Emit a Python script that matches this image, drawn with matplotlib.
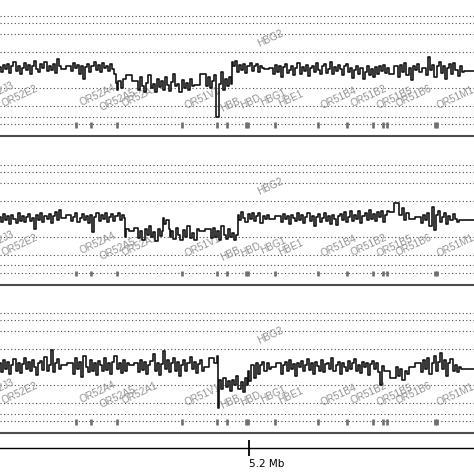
import numpy as np
import matplotlib
matplotlib.use("Agg")
import matplotlib.pyplot as plt

# genomic window (Mb) and log2 ratio guide lines
x_min, x_max = 5.0207, 5.3620
guide_levels = [1.5, 1.3, 1.0, 0.5, -0.5, -1.0, -1.3, -1.5]

# gene positions (Mb) drawn as small ticks
gene_ticks = [5.0754, 5.0862, 5.1050, 5.1518, 5.1770, 5.1842, 5.1975, 5.1996,
              5.2187, 5.2497, 5.2706, 5.2893, 5.2968, 5.2990, 5.3336, 5.3357]

# gene labels
gene_names = ["OR52J3", "OR52E2", "OR52A4", "OR52A5", "OR52A1", "OR51V1", "HBB", "HBD",
              "HBG1", "HBE1", "HBG2", "OR51B4", "OR51B2", "OR51B5", "OR51B6", "OR51M1"]
label_x = [5.0075, 5.0232, 5.0795, 5.0940, 5.1095, 5.1550, 5.1806, 5.1950,
           5.2094, 5.2223, 5.2072, 5.2530, 5.2745, 5.2933, 5.3070, 5.3365]
label_y = [-0.92, -1.03, -1.00, -1.14, -1.03, -1.08, -1.17, -1.08,
           -1.00, -1.03, 0.64, -1.08, -1.03, -1.08, -1.03, -1.08]

# probe blocks (start Mb, end Mb) and log2 ratios, sample 1
p1_edges = [(5.0207, 5.0654), (5.0711, 5.1050), (5.1050, 5.1122), (5.1194, 5.1611),
            (5.1683, 5.1878), (5.1878, 5.2115), (5.2166, 5.3015), (5.3066, 5.3231),
            (5.3267, 5.3555)]
p1_vals = [
    [0.08, -0.05, 0.15, 0.02, 0.18, -0.08, 0.1, 0.22, -0.02, 0.12, -0.1, 0.05, 0.2, 0.0, 0.14, -0.12,
     0.1, 0.25, 0.03, -0.06, 0.16, 0.06, 0.22, -0.04, 0.12, 0.0, 0.18, -0.08, 0.3, 0.1, 0.04],
    [0.1, -0.02, 0.2, 0.05, 0.15, -0.1, 0.12, -0.25, 0.08, 0.18, -0.05, 0.1, 0.22, 0.0, 0.14, -0.06,
     0.2, 0.06, 0.12, -0.02, 0.16, 0.04, -0.1, -0.35],
    [-0.55, -0.3, -0.5, -0.25, -0.15],
    [-0.3, -0.55, -0.2, -0.45, -0.62, -0.35, -0.15, -0.5, -0.4, -0.6, -0.25, -0.48, -0.3, -0.55, -0.2,
     -0.42, -0.58, -0.32, -0.12, -0.45, -0.38, -0.6, -0.28, -0.5, -0.35, -0.55, -0.25, -0.45, -0.42],
    [-0.1, -0.45, -0.2, -0.5, -0.3, -0.15, -1.3, -0.4, -0.05, -0.55, -0.25, -0.45, -0.2, -0.4],
    [0.22, 0.1, 0.25, -0.05, 0.15, 0.0, 0.18, -0.08, 0.12, 0.2, -0.02, 0.1, 0.16, -0.06, 0.12, 0.05, 0.04],
    [0.05, -0.1, 0.15, -0.05, 0.1, -0.2, 0.08, 0.18, -0.08, 0.0, 0.12, -0.15, 0.05, 0.2, -0.1, 0.08,
     -0.02, 0.15, -0.18, 0.06, 0.12, -0.05, 0.2, 0.0, -0.12, 0.1, 0.16, -0.08, 0.04, 0.22, -0.1, 0.08,
     -0.04, 0.14, 0.02, -0.15, 0.1, 0.18, -0.06, 0.05, -0.22, 0.0, 0.12, -0.1, 0.06, -0.25, -0.05, 0.1,
     -0.15, 0.04, -0.2, 0.08, -0.1, 0.12, -0.02, 0.15, -0.08, 0.05, -0.12],
    [0.1, -0.2, 0.15, -0.05, 0.2, -0.15, 0.05, -0.28, 0.1, 0.0, 0.18, -0.05],
    [0.05, -0.15, 0.35, 0.0, 0.15, -0.2, 0.1, 0.22, -0.08, 0.12, -0.25, 0.05, 0.18, -0.1, 0.2, 0.0,
     -0.18, 0.1, -0.05, -0.02],
]

# sample 2
p2_edges = [(5.0207, 5.0654), (5.0711, 5.1107), (5.1107, 5.1143), (5.1194, 5.1380),
            (5.1380, 5.1431), (5.1431, 5.1647), (5.1719, 5.1914), (5.1921, 5.2151),
            (5.2223, 5.3015), (5.3073, 5.3159), (5.3231, 5.3519)]
p2_vals = [
    [0.05, -0.1, 0.12, -0.05, 0.08, -0.15, 0.1, 0.0, -0.12, 0.15, -0.06, 0.08, -0.1, 0.05, 0.12, -0.08,
     0.02, -0.28, 0.1, -0.05, 0.15, -0.1, 0.06, -0.02, 0.12, -0.12, 0.08, 0.18, -0.05, 0.25, 0.02],
    [0.1, -0.08, 0.05, 0.15, -0.1, 0.02, 0.12, -0.05, 0.08, -0.12, 0.1, -0.38, 0.05, 0.14, -0.06, 0.1,
     -0.02, 0.16, -0.1, 0.04, 0.12, -0.08, 0.06, 0.15, -0.04, 0.1, 0.02],
    [-0.52, -0.3, -0.35],
    [-0.25, -0.55, -0.35, -0.6, -0.3, -0.45, -0.2, -0.5, -0.38, -0.62, -0.28, -0.48, -0.35],
    [0.02, -0.15, -0.05, -0.3],
    [-0.5, -0.35, -0.58, -0.25, -0.45, -0.6, -0.32, -0.5, -0.22, -0.55, -0.4, -0.6, -0.3, -0.35],
    [-0.3, -0.55, -0.25, -0.5, -0.35, -0.6, -0.2, -0.45, -0.58, -0.3, -0.52, -0.4, -0.6, -0.45],
    [0.1, -0.05, 0.18, 0.02, -0.1, 0.12, -0.02, 0.15, -0.08, 0.06, 0.14, -0.12, 0.08, -0.02, 0.1, 0.0],
    [0.08, -0.1, 0.12, -0.02, 0.06, -0.15, 0.1, 0.02, -0.08, 0.14, -0.05, 0.1, -0.12, 0.04, 0.16, -0.06,
     0.08, -0.2, 0.05, 0.12, -0.1, 0.02, 0.15, -0.08, 0.06, -0.14, 0.1, 0.0, -0.18, 0.08, 0.12, -0.05,
     0.18, -0.1, 0.05, 0.2, -0.06, 0.1, -0.02, 0.22, -0.12, 0.08, 0.15, -0.05, 0.25, 0.0, 0.12, -0.08,
     0.18, 0.05, 0.22, -0.1, 0.1, 0.2, 0.18],
    [0.42, 0.1, 0.3, -0.05, 0.15, 0.0],
    [0.05, -0.12, 0.1, -0.05, 0.15, -0.2, 0.32, -0.32, 0.1, 0.2, -0.1, 0.05, 0.15, -0.15, 0.08, -0.05,
     0.12, 0.0, -0.1, -0.05],
]

# sample 3
p3_edges = [(5.0207, 5.0654), (5.0726, 5.1143), (5.1194, 5.1683), (5.1734, 5.1777),
            (5.1777, 5.1993), (5.1993, 5.2166), (5.2223, 5.2979), (5.3051, 5.3159),
            (5.3231, 5.3534)]
p3_vals = [
    [0.1, -0.15, 0.2, -0.05, 0.15, -0.2, 0.05, 0.22, -0.1, 0.12, -0.18, 0.08, 0.25, -0.05, 0.15, -0.12,
     0.2, 0.0, -0.22, 0.1, 0.18, -0.08, 0.28, -0.1, 0.05, 0.48, -0.15, 0.12, 0.22, -0.05, 0.05],
    [0.1, -0.2, 0.25, -0.05, 0.15, -0.28, 0.3, 0.0, -0.15, 0.2, -0.1, 0.12, -0.22, 0.18, 0.05, -0.12,
     0.25, -0.08, 0.1, -0.2, 0.15, 0.3, -0.05, 0.12, -0.18, 0.2, -0.1, 0.1, 0.05],
    [0.1, -0.15, 0.2, -0.08, 0.15, -0.2, 0.05, 0.18, 0.35, -0.1, 0.12, -0.22, 0.08, 0.45, -0.05, 0.2,
     -0.15, 0.1, 0.25, -0.1, 0.15, -0.25, 0.05, 0.2, -0.12, 0.1, 0.28, -0.05, 0.15, -0.18, 0.08, 0.2,
     -0.1, 0.0],
    [0.25, 0.1, 0.3],
    [-1.15, -0.35, -0.6, -0.3, -0.55, -0.4, -0.68, -0.35, -0.5, -0.25, -0.6, -0.42, -0.7, -0.3, -0.5],
    [-0.1, -0.4, 0.05, -0.3, 0.1, -0.2, 0.05, 0.15, -0.1, 0.1, -0.05, 0.0],
    [0.1, -0.2, 0.05, 0.15, -0.1, 0.2, -0.05, 0.08, -0.25, 0.12, 0.0, 0.18, -0.12, 0.05, 0.22, -0.08,
     0.1, -0.2, 0.15, 0.02, -0.1, 0.2, -0.15, 0.08, 0.12, -0.05, 0.25, -0.1, 0.05, 0.15, -0.2, 0.1,
     0.0, -0.12, 0.18, -0.05, 0.12, 0.22, -0.1, 0.05, -0.18, 0.15, 0.0, 0.1, -0.22, 0.08, 0.18, -0.05,
     0.12, -0.15, -0.5, 0.02, -0.1],
    [-0.3, 0.0, -0.25, -0.05, -0.35, -0.1, -0.2, 0.0],
    [0.1, -0.15, 0.2, -0.05, 0.25, -0.2, 0.12, 0.3, -0.1, 0.15, 0.4, -0.05, 0.2, -0.25, 0.1, 0.22,
     -0.1, 0.05, -0.15, 0.0, -0.05],
]

scale_tick = 5.2
scale_label = "5.2 Mb"

W = 474.0
panel_h = 148.5
panel_bottoms = [136.0, 284.5, 433.0]   # pixel rows of the panel base lines

fig = plt.figure(figsize=(4.74, 4.74), dpi=100)


def draw_panel(ax, edges, vals):
    xs, ys = [], []
    for (s, e), v in zip(edges, vals):
        xs.append(np.linspace(s, e, len(v)))
        ys.append(np.array(v))
    x = np.concatenate(xs + [[x_max]])
    y = np.concatenate(ys + [[ys[-1][-1]]])
    for lv in guide_levels:
        ax.axhline(lv, color="#4a4a4a", lw=0.8, ls=(0, (1, 2.2)), zorder=1)
    ax.vlines(gene_ticks, -1.60, -1.45, color="#6e6e6e", lw=1.9, zorder=2)
    for name, gx, gy in zip(gene_names, label_x, label_y):
        ax.text(gx, gy, name, rotation=25, rotation_mode="anchor", ha="left", va="baseline",
                fontsize=7.2, family="Liberation Sans", color="#929292", zorder=2)
    ax.plot(x, y, drawstyle="steps-mid", color="#141414", lw=1.2, zorder=3)
    ax.set_xlim(x_min, x_max)
    ax.set_ylim(-66 / 36, 82.5 / 36)
    for side in ["top", "left", "right"]:
        ax.spines[side].set_visible(False)
    ax.spines["bottom"].set_color("#4d4d4d")
    ax.spines["bottom"].set_linewidth(1.5)
    ax.set_xticks([])
    ax.set_yticks([])
    ax.patch.set_alpha(0)


for pb, edges, vals in zip(panel_bottoms, [p1_edges, p2_edges, p3_edges], [p1_vals, p2_vals, p3_vals]):
    ax = fig.add_axes([0, 1 - pb / W, 1, panel_h / W])
    draw_panel(ax, edges, vals)

# scale bar at the bottom
axs = fig.add_axes([0, 1 - 447.5 / W, 1, 0.01])
axs.set_xlim(x_min, x_max)
for side in ["top", "left", "right"]:
    axs.spines[side].set_visible(False)
axs.spines["bottom"].set_linewidth(1.0)
axs.set_yticks([])
axs.set_xticks([scale_tick])
axs.set_xticklabels([scale_label], fontsize=7.5, family="DejaVu Sans")
axs.tick_params(axis="x", direction="inout", length=11, width=1.3, pad=3)
for lab in axs.get_xticklabels():
    lab.set_ha("left")
axs.patch.set_alpha(0)

fig.savefig("out.png", dpi=100)
